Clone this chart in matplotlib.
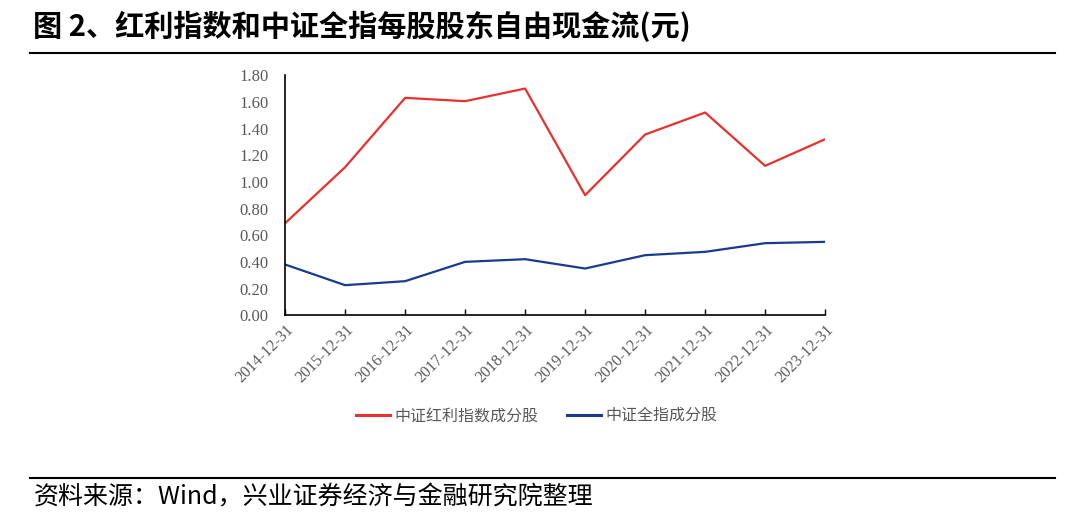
import matplotlib.pyplot as plt
from matplotlib.lines import Line2D

plt.rcParams["font.family"] = ["Noto Sans CJK SC", "DejaVu Sans"]

dates = ["2014-12-31", "2015-12-31", "2016-12-31", "2017-12-31", "2018-12-31",
         "2019-12-31", "2020-12-31", "2021-12-31", "2022-12-31", "2023-12-31"]
dividend = [0.69, 1.11, 1.63, 1.605, 1.70, 0.90, 1.355, 1.52, 1.12, 1.32]
all_share = [0.38, 0.225, 0.255, 0.40, 0.42, 0.35, 0.45, 0.475, 0.54, 0.55]
series_names = ["中证红利指数成分股", "中证全指成分股"]
y_ticks = [0.0, 0.2, 0.4, 0.6, 0.8, 1.0, 1.2, 1.4, 1.6, 1.8]

RED = "#E8302D"
BLUE = "#1B3A8F"
GREY = "#595959"

fig = plt.figure(figsize=(10.8, 5.15), dpi=100)
ax = fig.add_axes([0.264, 0.388, 0.5, 0.466])

x = list(range(len(dates)))
ax.plot(x, dividend, color=RED, lw=1.6, label=series_names[0])
ax.plot(x, all_share, color=BLUE, lw=1.6, label=series_names[1])

ax.set_xlim(0, len(dates) - 1)
ax.set_ylim(0, 1.8)
ax.set_yticks(y_ticks)
ax.set_yticklabels([f"{v:.2f}" for v in y_ticks], family="Liberation Serif",
                   fontsize=12, color=GREY)
ax.set_xticks(x)
ax.set_xticklabels(dates, rotation=45, ha="right", rotation_mode="anchor",
                   family="Liberation Serif", fontsize=11.5, color=GREY)
ax.tick_params(axis="x", direction="in", length=4, width=1, pad=5)
ax.tick_params(axis="y", length=0, pad=12)
for side in ("top", "right"):
    ax.spines[side].set_visible(False)
for side in ("left", "bottom"):
    ax.spines[side].set_color("black")
    ax.spines[side].set_linewidth(1.2)

handles = [Line2D([], [], color=RED, lw=2.2), Line2D([], [], color=BLUE, lw=2.2)]
fig.legend(handles, series_names, loc="center", bbox_to_anchor=(0.497, 0.193),
           ncol=2, frameon=False, fontsize=11.5, labelcolor=GREY,
           handlelength=2.1, handletextpad=0.3, columnspacing=1.8)

# title, rules and source note
fig.text(0.031, 0.948, "图 2、红利指数和中证全指每股股东自由现金流(元)",
         fontsize=21, fontweight="bold", va="center", ha="left")
fig.add_artist(Line2D([0.028, 0.977], [0.897, 0.897], color="black", lw=1.5,
                      transform=fig.transFigure))
fig.add_artist(Line2D([0.028, 0.977], [0.072, 0.072], color="black", lw=1.5,
                      transform=fig.transFigure))
fig.text(0.031, 0.035, "资料来源：Wind，兴业证券经济与金融研究院整理",
         fontsize=18, va="center", ha="left")

fig.savefig("out.png", dpi=100)
